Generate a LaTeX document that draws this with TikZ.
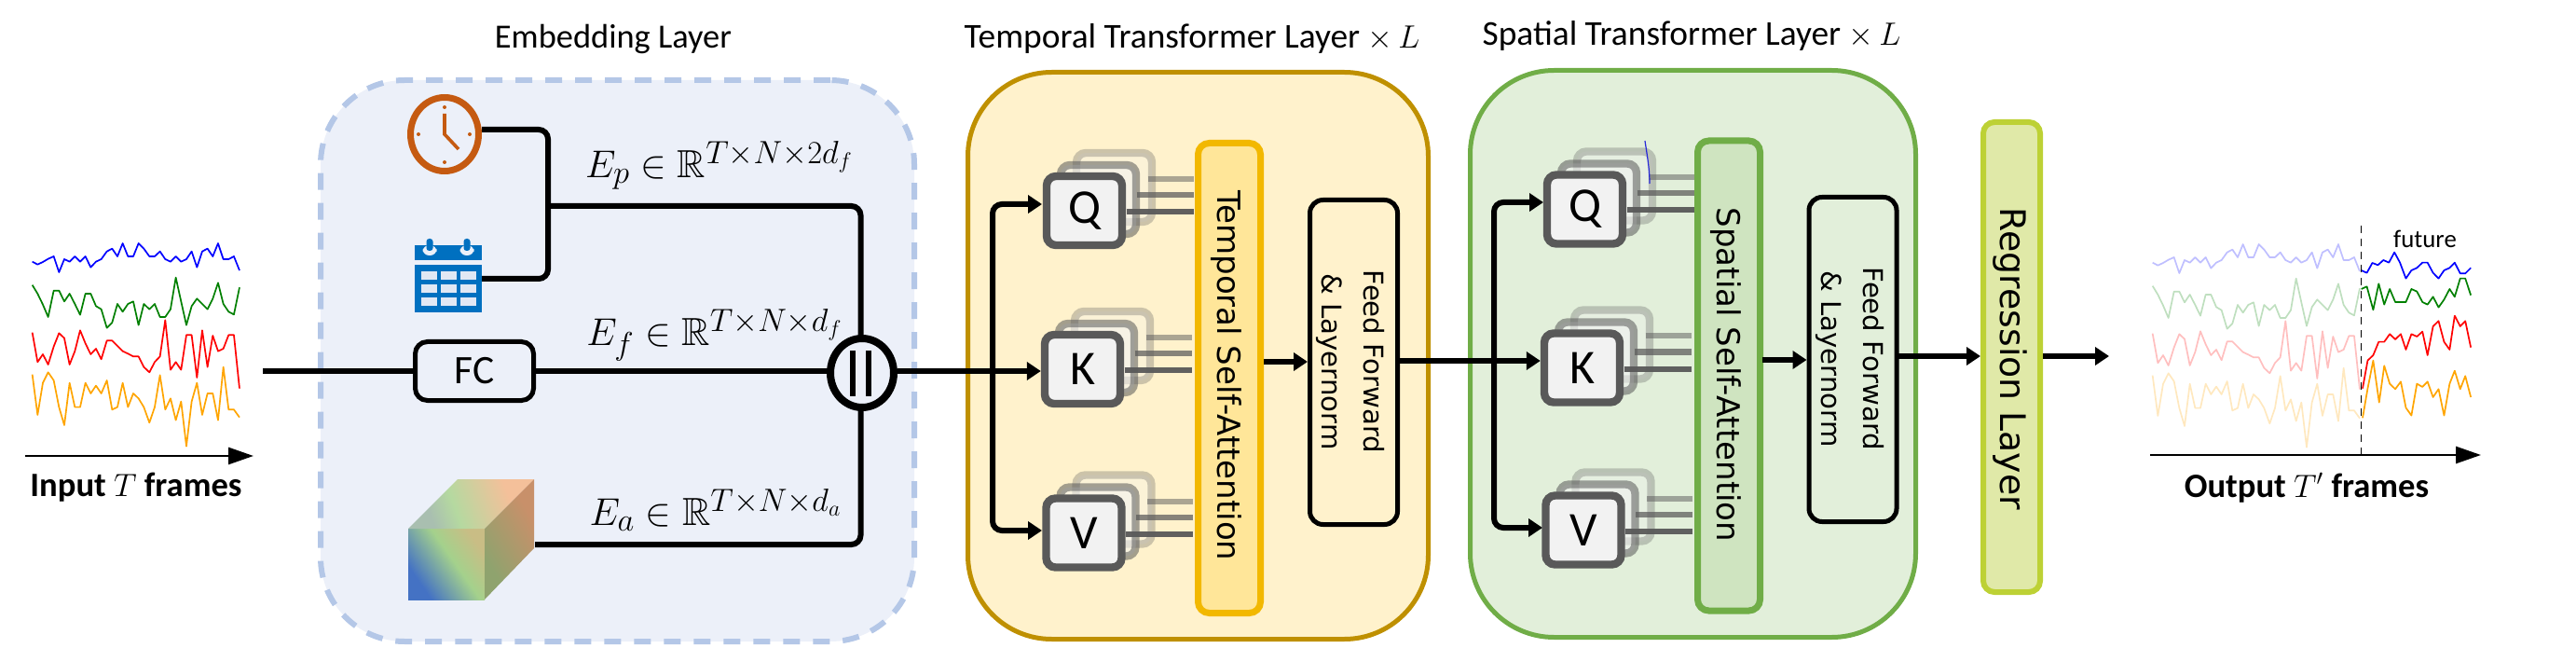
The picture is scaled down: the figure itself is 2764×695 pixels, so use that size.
\documentclass[tikz,border=0pt]{standalone}
\usepackage{amssymb}
\usepackage{fontspec}
\setmainfont{Carlito}
\newfontfamily\barfont{DejaVu Sans}
\usetikzlibrary{arrows.meta,shapes.geometric}
\DeclareMathSizes{21}{21}{16}{12}

\definecolor{embedfill}{HTML}{ECF0F9}
\definecolor{embedline}{HTML}{B4C7E7}
\definecolor{tempfill}{HTML}{FFF2CC}
\definecolor{templine}{HTML}{BF9000}
\definecolor{tbarfill}{HTML}{FFE699}
\definecolor{tbarline}{HTML}{F2B800}
\definecolor{spatfill}{HTML}{E2EFDA}
\definecolor{spatline}{HTML}{70AD47}
\definecolor{sbarfill}{HTML}{CFE4C0}
\definecolor{regfill}{HTML}{E0E9A8}
\definecolor{regline}{HTML}{BDD135}
\definecolor{clockline}{HTML}{C55A11}
\definecolor{calblue}{HTML}{0070C0}
\definecolor{calcell}{HTML}{E1E8F4}
\definecolor{keyline}{HTML}{595959}
\definecolor{keyfill}{HTML}{F2F2F2}
\definecolor{seriesgreen}{HTML}{008000}
\definecolor{seriesorange}{HTML}{FFA500}
\definecolor{cubeblue}{HTML}{4472C4}
\definecolor{cubegreen}{HTML}{A4D18C}
\definecolor{cubetan}{HTML}{C9BD85}
\definecolor{cubegrey}{HTML}{A9BFB0}
\definecolor{cubelime}{HTML}{B5D9A0}
\definecolor{cubepeach}{HTML}{F4C09A}
\definecolor{cubeolive}{HTML}{8FA36E}
\definecolor{cubebrown}{HTML}{C8906A}

\pgfdeclarehorizontalshading{cubefront}{100bp}{color(0bp)=(cubeblue); color(28bp)=(cubeblue); color(55bp)=(cubegreen); color(75bp)=(cubetan); color(100bp)=(cubetan)}
\pgfdeclarehorizontalshading{cubetop}{100bp}{color(0bp)=(cubegrey); color(30bp)=(cubegrey); color(42bp)=(cubelime); color(68bp)=(cubepeach); color(100bp)=(cubepeach)}
\pgfdeclarehorizontalshading{cubeside}{100bp}{color(0bp)=(cubeolive); color(30bp)=(cubeolive); color(70bp)=(cubebrown); color(100bp)=(cubebrown)}

\tikzset{
  x=0.5pt, y=-0.5pt,
  >={Triangle[length=7.5pt,width=9.5pt]},
  wire/.style = {line width=3pt, rounded corners=5pt},
  flow/.style = {line width=3pt, ->, rounded corners=5pt},
  timeaxis/.style = {line width=1.4pt, -{Triangle[length=13.5pt,width=9pt]}},
  layerbox/.style = {draw, rounded corners=45pt, line width=2.5pt, inner sep=0pt},
  attnbar/.style = {draw, rounded corners=6pt, line width=3.5pt, inner sep=0pt, minimum width=33.5pt, minimum height=252pt},
  feedbox/.style = {draw, rounded corners=7pt, line width=2.5pt, inner sep=0pt, minimum width=47pt, minimum height=174pt},
  keybox/.style = {draw=keyline, fill=keyfill, rounded corners=5pt, line width=4.2pt, inner sep=0pt, minimum width=40.5pt, minimum height=37pt},
  stub/.style = {draw=keyline, line width=3pt},
  barlabel/.style = {rotate=-90, font=\barfont\fontsize{17}{20}\selectfont},
  feedlabel/.style = {rotate=-90, align=center, font=\barfont\fontsize{14.6}{22.5}\selectfont},
  titlelabel/.style = {font=\fontsize{18.2}{22}\selectfont},
  mathlabel/.style = {font=\fontsize{21}{25}\selectfont},
  framelabel/.style = {font=\bfseries\fontsize{18.3}{22}\selectfont},
  series/.style = {line width=0.85pt, line join=round},
}

% one key box with its two shadow copies and its three stubs
\newcommand{\keystack}[4]{
  \node[keybox, opacity=0.3] at (#2+32,#3-25) {};
  \node[keybox, opacity=0.55] at (#2+15,#3-12) {};
  \draw[stub, opacity=0.5] (#2+68,#3-34) -- (#2+117,#3-34);
  \draw[stub, opacity=0.72] (#2+56,#3-17) -- (#2+117,#3-17);
  \draw[stub, opacity=0.95] (#2+45,#3+1) -- (#2+117,#3+1);
  \node[keybox, font=\fontsize{26}{30}\selectfont] (#1) at (#2,#3) {#4};
}

% the four input series, in zoom units
\newcommand{\inputseries}[1]{
  \draw[series, blue, opacity=#1] plot coordinates {(104,122) (121,131) (138,123) (155,113) (173,105) (190,156) (207,114) (224,122) (241,105) (258,122) (275,105) (292,140) (309,122) (326,114) (344,89) (361,80) (378,105) (395,63) (412,105) (429,105) (446,63) (463,80) (481,105) (498,105) (515,89) (532,114) (549,122) (566,105) (583,122) (600,114) (617,89) (634,140) (651,89) (668,80) (685,105) (702,63) (719,114) (736,114) (753,105) (771,150)};
  \draw[series, seriesgreen, opacity=#1] plot coordinates {(104,197) (121,225) (138,260) (155,300) (173,215) (190,215) (207,250) (224,225) (241,258) (258,293) (275,225) (292,225) (309,265) (326,275) (344,335) (361,318) (378,258) (395,283) (412,258) (429,250) (446,326) (463,258) (481,275) (498,258) (515,300) (532,300) (549,275) (566,173) (583,250) (600,326) (617,265) (634,241) (651,258) (668,275) (685,241) (702,190) (719,258) (736,283) (753,292) (771,205)};
  \draw[series, red, opacity=#1] plot coordinates {(104,350) (121,445) (138,420) (155,453) (173,395) (190,352) (207,368) (224,453) (241,410) (258,343) (275,385) (292,420) (309,402) (326,436) (344,376) (361,376) (378,393) (395,410) (412,418) (429,427) (446,427) (463,461) (481,478) (498,445) (515,427) (532,310) (549,470) (566,445) (583,470) (600,358) (617,358) (634,495) (651,343) (668,461) (685,360) (702,410) (719,402) (736,358) (753,358) (771,530)};
  \draw[series, seriesorange, opacity=#1] plot coordinates {(104,485) (121,615) (138,512) (155,478) (173,504) (190,590) (207,648) (224,512) (241,590) (258,590) (275,512) (292,546) (309,521) (326,546) (344,504) (361,598) (378,590) (395,512) (412,590) (429,546) (446,562) (463,590) (481,640) (498,590) (515,487) (532,598) (549,562) (566,632) (583,572) (600,716) (617,572) (634,512) (651,615) (668,546) (685,546) (702,632) (719,461) (736,598) (753,598) (771,623)};
}

\begin{document}
\begin{tikzpicture}
  \useasboundingbox (0,0) rectangle (2764,695);

  %% define coordinates
  \coordinate (inputend) at (282,398);
  \coordinate (clockout) at (517,139);
  \coordinate (calout) at (517,299);
  \coordinate (joint) at (588,221);
  \coordinate (cubeout) at (574,584);
  \coordinate (tsplit) at (1065,398);
  \coordinate (tqin) at (1118,219);
  \coordinate (tvin) at (1118,569);
  \coordinate (tbarout) at (1356,388);
  \coordinate (tfeedout) at (1502,387);
  \coordinate (ssplit) at (1603,387);
  \coordinate (sqin) at (1656,217);
  \coordinate (svin) at (1655,566);
  \coordinate (sbarout) at (1891,386);
  \coordinate (sfeedout) at (2037,382);
  \coordinate (regout) at (2192,382);
  \coordinate (outend) at (2263,382);

  % draw layer backgrounds
  \node[layerbox, draw=embedline, fill=embedfill, dash pattern=on 9pt off 7pt, line width=3pt, minimum width=318.5pt, minimum height=301pt] (embed) at (662.5,387) {};
  \node[layerbox, draw=templine, fill=tempfill, minimum width=247pt, minimum height=304pt] (tbox) at (1285.5,381.5) {};
  \node[layerbox, draw=spatline, fill=spatfill, minimum width=239pt, minimum height=304pt] (sbox) at (1816.5,379.5) {};

  % draw layer titles
  \node[titlelabel] at (658,42) {Embedding Layer};
  \node[titlelabel, font=\fontsize{18.7}{22}\selectfont] at (1279,42) {Temporal Transformer Layer $\times\, L$};
  \node[titlelabel, font=\fontsize{18.7}{22}\selectfont] at (1815,39) {Spatial Transformer Layer $\times\, L$};

  % draw input series
  \begin{scope}[shift={(0,240)}, xscale=0.3333, yscale=0.3333]
    \inputseries{1}
  \end{scope}
  \coordinate (inaxis) at (27,489);
  \coordinate (inaxisend) at (272,489);
  \draw[timeaxis] (inaxis) -- (inaxisend);
  \node[framelabel] at (146,523) {Input $T$ frames};

  % draw clock
  \node[ellipse, draw=clockline, line width=3.5pt, inner sep=0pt, minimum width=36.5pt, minimum height=39.5pt] (clock) at (477,144) {};
  \draw[clockline, line width=1.8pt] (477,122) -- (477,144) -- (492,160);
  \foreach \dotx/\doty in {477/115, 477/174, 449/144, 504/144}
    \fill[clockline] (\dotx,\doty) circle (2);

  % draw calendar
  \node[fill=calblue, inner sep=0pt, minimum width=36pt, minimum height=8pt] (calhead) at (481,271) {};
  \node[fill=calblue, inner sep=0pt, minimum width=36pt, minimum height=25.5pt] (calbody) at (481,309.5) {};
  \foreach \ringx in {461,501} {
    \fill[embedfill, rounded corners=3.5pt] (\ringx-7.5,263) rectangle (\ringx+7.5,274);
    \fill[calblue, rounded corners=1.5pt] (\ringx-3.5,256) rectangle (\ringx+3.5,269);
  }
  \foreach \cellx in {451.5,472.5,494}
    \foreach \celly in {291,305,319}
      \fill[calcell] (\cellx,\celly) rectangle +(17,9);

  % draw cube
  \shade[shading=cubefront, shading angle=35] (438,567) rectangle (520,643);
  \shade[shading=cubetop, shading angle=20] (438,567) -- (491,514) -- (573,514) -- (520,567) -- cycle;
  \shade[shading=cubeside, shading angle=30] (520,567) -- (573,514) -- (573,588) -- (520,643) -- cycle;

  % draw embedding block
  \node[draw, fill=embedfill, rounded corners=6.5pt, line width=2.5pt, inner sep=0pt, minimum width=63.5pt, minimum height=31.5pt, font=\fontsize{21.7}{24}\selectfont] (fc) at (509,398) {FC};
  \draw[wire] (inputend) -- (fc.west);
  \draw[wire] (clockout) -| (joint) |- (calout);
  \draw[wire] (cubeout) -| (923.5,440);
  \draw[wire] (joint) -| (923.5,362);
  \draw[wire] (fc.east) -- (890,398);
  \node[ellipse, draw, fill=embedfill, line width=4pt, inner sep=0pt, minimum width=34pt, minimum height=37pt] (concat) at (925,400) {};
  \draw[line width=3pt] (915,376) -- (915,425);
  \draw[line width=3pt] (932,376) -- (932,425);

  % draw embedding labels
  \node[mathlabel] at (772,177) {$E_p \in \mathbb{R}^{T\times N\times 2d_f}$};
  \node[mathlabel] at (767,359) {$E_f \in \mathbb{R}^{T\times N\times d_f}$};
  \node[mathlabel] at (768,547) {$E_a \in \mathbb{R}^{T\times N\times d_a}$};

  % draw temporal layer
  \keystack{tq}{1163.5}{226}{Q}
  \keystack{tk}{1161.5}{396}{K}
  \keystack{tv}{1163}{571.5}{V}
  \node[attnbar, draw=tbarline, fill=tbarfill] (tbar) at (1319,405.5) {};
  \node[barlabel] at (1316,403) {Temporal Self-Attention};
  \node[feedbox] (tfeed) at (1452.5,388.5) {};
  \node[feedlabel] at (1449,388) {Feed Forward\\\& Layernorm};

  % draw spatial layer
  \keystack{sq}{1700.5}{224.5}{Q}
  \keystack{sk}{1697.5}{394.5}{K}
  \keystack{sv}{1699}{568.5}{V}
  \draw[blue!70!gray, line width=0.6pt] (1765,151) .. controls (1767,165) and (1770,180) .. (1770,197);
  \node[attnbar, draw=spatline, fill=sbarfill] (sbar) at (1855,403) {};
  \node[barlabel] at (1852,402) {Spatial Self-Attention};
  \node[feedbox] (sfeed) at (1988,385.5) {};
  \node[feedlabel] at (1985,385) {Feed Forward\\\& Layernorm};

  % draw regression layer
  \node[attnbar, draw=regline, fill=regfill, line width=3pt, minimum width=30.5pt] (reg) at (2158.5,383) {};
  \node[barlabel, font=\barfont\fontsize{18.9}{22}\selectfont] at (2157,385) {Regression Layer};

  % draw arrows between layers
  \draw[flow] (concat.east |- tsplit) -- (tk.west |- tsplit);
  \draw[flow] (tsplit) |- (tqin);
  \draw[flow] (tsplit) |- (tvin);
  \draw[flow] (tbarout) -- (tbarout -| tfeed.west);
  \draw[flow] (tfeedout) -- (tfeedout -| sk.west);
  \draw[flow] (ssplit) |- (sqin);
  \draw[flow] (ssplit) |- (svin);
  \draw[flow] (sbarout) -- (sbarout -| sfeed.west);
  \draw[flow] (sfeedout) -- (sfeedout -| reg.west);
  \draw[flow] (regout) -- (outend);

  % draw output series
  \begin{scope}[shift={(2275,241)}, xscale=0.3333, yscale=0.3333]
    \inputseries{0.25}
  \end{scope}
  \begin{scope}[shift={(2050,100)}, xscale=0.4554, yscale=0.3333]
    \draw[series, blue] plot coordinates {(1062,570) (1075,578) (1088,546) (1101,553) (1114,537) (1127,545) (1140,512) (1153,545) (1167,596) (1180,570) (1193,562) (1206,545) (1218,545) (1231,578) (1244,596) (1257,570) (1270,562) (1282,545) (1295,580) (1307,580) (1320,562)};
    \draw[series, seriesgreen] plot coordinates {(1062,630) (1075,622) (1090,697) (1103,613) (1116,680) (1129,630) (1142,672) (1155,672) (1167,672) (1180,630) (1193,638) (1206,672) (1218,680) (1231,655) (1244,689) (1257,664) (1270,630) (1282,655) (1295,596) (1307,596) (1320,650)};
    \draw[series, red] plot coordinates {(1065,950) (1077,860) (1090,843) (1103,800) (1116,800) (1129,775) (1142,792) (1155,775) (1167,825) (1180,775) (1193,783) (1206,767) (1218,843) (1231,750) (1244,733) (1257,800) (1270,825) (1282,716) (1295,750) (1307,733) (1320,818)};
    \draw[series, seriesorange] plot coordinates {(1065,1045) (1077,950) (1090,860) (1104,995) (1116,877) (1129,935) (1142,952) (1155,928) (1167,1012) (1180,1037) (1193,935) (1206,945) (1218,928) (1231,978) (1244,952) (1257,1037) (1270,935) (1282,893) (1295,952) (1307,910) (1320,978)};
  \end{scope}
  \coordinate (outaxis) at (2307,488);
  \coordinate (outaxisend) at (2662,488);
  \coordinate (futuretop) at (2533.5,242);
  \coordinate (futurebot) at (2533.5,488);
  \draw[timeaxis] (outaxis) -- (outaxisend);
  \draw[line width=0.8pt, dash pattern=on 4pt off 3pt] (futuretop) -- (futurebot);
  \node[font=\fontsize{13.4}{16}\selectfont] at (2602,256) {future};
  \node[framelabel] at (2475,523) {Output $T'$ frames};
\end{tikzpicture}
\end{document}
